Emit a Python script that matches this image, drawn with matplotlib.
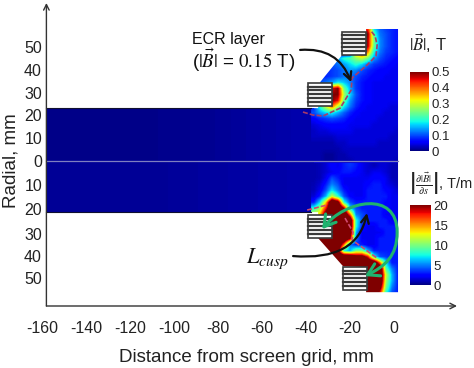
import numpy as np
import matplotlib
matplotlib.use('Agg')
import matplotlib.pyplot as plt
from matplotlib.patches import FancyArrowPatch, Polygon, Rectangle
from matplotlib.path import Path

plt.rcParams['font.family'] = ['Liberation Sans', 'DejaVu Sans']
plt.rcParams['mathtext.fontset'] = 'stix'

x_ticks = [-160, -140, -120, -100, -80, -60, -40, -20, 0]
y_ticks = [49.6, 39.6, 29.6, 20, 10, 0, -10.4, -20.9, -31.7, -41.3, -50.9]
y_labels = ['50', '40', '30', '20', '10', '0', '10', '20', '30', '40', '50']

# |B| in T/100, rows from the top of the chamber down to the axis
b_field = [
    [0, 0, 0, 0, 0, 0, 0, 50, 50, 42, 17, 11, 9, 8, 7],
    [0, 0, 0, 0, 0, 0, 0, 50, 50, 50, 22, 12, 10, 8, 7],
    [0, 0, 0, 0, 0, 0, 0, 50, 50, 48, 25, 13, 10, 8, 7],
    [0, 0, 0, 0, 0, 0, 0, 50, 50, 48, 24, 13, 10, 8, 7],
    [0, 0, 0, 0, 0, 0, 0, 40, 45, 38, 19, 12, 9, 8, 7],
    [0, 0, 0, 10, 14, 20, 22, 26, 30, 24, 14, 10, 8, 7, 6],
    [6, 6, 8, 10, 12, 14, 17, 20, 17, 12, 9, 8, 7, 6, 5],
    [6, 7, 8, 9, 10, 12, 14, 13, 10, 8, 7, 6, 6, 5, 5],
    [8, 8, 8, 9, 10, 12, 12, 10, 8, 7, 6, 6, 5, 5, 5],
    [10, 10, 12, 14, 18, 16, 13, 9, 7, 6, 5, 5, 5, 5, 5],
    [30, 35, 40, 45, 50, 24, 15, 9, 7, 6, 5, 5, 5, 5, 5],
    [50, 50, 50, 50, 50, 28, 17, 10, 7, 6, 5, 5, 5, 5, 5],
    [50, 50, 50, 50, 45, 24, 14, 9, 7, 6, 5, 5, 5, 5, 5],
    [8, 20, 30, 40, 28, 18, 12, 8, 6, 5, 5, 5, 5, 4, 4],
    [10, 14, 17, 19, 15, 11, 8, 6, 5, 5, 5, 5, 4, 4, 4],
    [6, 8, 9, 10, 9, 8, 6, 5, 5, 5, 5, 4, 4, 4, 4],
    [4, 5, 6, 6, 6, 6, 5, 5, 5, 5, 4, 4, 4, 4, 4],
    [3, 4, 4, 5, 5, 5, 5, 4, 4, 4, 4, 4, 4, 4, 3],
    [3, 3, 3, 3, 4, 4, 4, 4, 4, 4, 4, 4, 4, 3, 3],
    [2, 2, 2, 2, 3, 3, 4, 4, 4, 4, 4, 3, 3, 3, 3],
    [2, 2, 2, 2, 2, 3, 3, 3, 3, 3, 3, 3, 3, 3, 3],
    [2, 2, 1, 1, 2, 2, 3, 3, 3, 3, 3, 3, 3, 3, 3],
    [2, 2, 1, 1, 2, 2, 2, 3, 3, 3, 3, 3, 3, 3, 2],
]

# gradient in T/m, rows from the axis downwards (above 20 reads as saturated)
grad_field = [
    [0.8, 1, 1.5, 2.5, 2, 3, 3.5, 3, 2, 1.5, 1, 1.5, 1.5, 1, 1],
    [0.8, 1, 1.5, 2, 2.5, 3, 3, 2.5, 2, 1.5, 2, 2, 1.5, 1, 1],
    [0.8, 1, 2, 4, 3, 2, 2, 2, 2, 2, 2.5, 2.5, 2, 1, 1],
    [0.9, 1.5, 3, 5, 4, 2, 2, 2, 2, 2.5, 3, 3, 2, 1.5, 1],
    [1, 2, 4, 7, 5, 3, 2, 2, 2, 3, 3, 3, 2.5, 2, 1.5],
    [1.5, 3, 6, 12, 8, 4, 2.5, 2, 2, 3, 3, 3, 3, 2, 2],
    [3, 7, 14, 25, 22, 8, 4, 3, 3, 3, 3, 3, 2.5, 2, 2],
    [8, 11, 18, 25, 25, 20, 7, 4, 3, 3, 3, 3, 2.5, 2, 2],
    [12, 14, 22, 25, 25, 25, 16, 5, 4, 3, 3, 3, 2, 2, 2],
    [25, 25, 25, 25, 25, 25, 25, 8, 4, 3, 3, 3, 3, 2, 2],
    [25, 25, 25, 25, 25, 25, 25, 8, 3, 2, 2, 3, 3, 3, 3],
    [25, 25, 25, 25, 25, 25, 23, 6, 2, 2, 2, 2, 3, 3, 3],
    [25, 25, 25, 25, 25, 25, 20, 5, 2, 2, 2, 3, 3, 3, 3],
    [25, 25, 25, 25, 25, 16, 5, 3, 3, 2, 2, 3, 3, 3, 3],
    [25, 25, 25, 25, 22, 8, 6, 10, 10, 6, 3, 3, 3, 3, 3],
    [25, 25, 25, 25, 25, 25, 25, 22, 22, 18, 8, 4, 3.5, 3, 3],
    [25, 25, 25, 25, 25, 25, 25, 25, 25, 25, 25, 16, 7, 3, 3],
    [25, 25, 25, 25, 25, 25, 25, 25, 25, 25, 25, 25, 9, 5, 3],
    [25, 25, 25, 25, 25, 25, 25, 25, 25, 25, 25, 25, 12, 6, 3],
    [25, 25, 25, 25, 25, 25, 25, 25, 25, 25, 25, 25, 11, 6, 3],
    [25, 25, 25, 25, 25, 25, 25, 25, 25, 25, 25, 22, 10, 5, 3],
    [25, 25, 25, 25, 25, 25, 25, 25, 25, 25, 25, 18, 8, 4, 3],
]

# grid side of the channel, nearly flat
channel_b = [0.5, 0.5, 0.5, 0.7, 1, 1.5, 2]
channel_grad = [0.4, 0.4, 0.4, 0.5, 0.6, 0.7, 0.8]

ecr_top_x = [-41.4, -36.8, -32.3, -24.5, -19.5, -19.1, -12.3, -8.2, -7.7, -8.6, -10.9]
ecr_top_r = [21.3, 20, 19.6, 23, 30.9, 36.1, 41.7, 45.7, 50.4, 54.3, 57]
ecr_low1_x = [-39.5, -30.5]
ecr_low1_r = [-21.3, -19.1]
ecr_low2_x = [-22.3, -18.6, -19.1, -7.7]
ecr_low2_r = [-24.8, -30.9, -34.3, -42.2]

magnets = [(-23.6, 46.1), (-39.1, 23.9), (-39.1, -33.5), (-23.2, -56.1)]
magnet_w = 10.7
magnet_h = 10.2

fig = plt.figure(figsize=(4.74, 3.68), dpi=100)
ax = fig.add_axes([42 / 474, (368 - 306) / 368, (457 - 42) / 474, 303 / 368])

# backing strip so the two field images meet without a seam on the axis
ax.add_patch(Rectangle((-37.7, -3), 39.5, 6, fc=plt.get_cmap('jet')(0.07), ec='none', zorder=1.5))

im_b = ax.imshow(b_field, cmap='jet', vmin=0, vmax=50, aspect='auto', interpolation='bilinear',
                 extent=(-37.7, 3.2, -1.3, 58.7), zorder=2)
im_b.set_clip_path(Polygon([(-37.7, 0), (-37.7, 23), (-34.5, 23), (-33.6, 34.3), (-23.6, 46.1),
                            (-12.7, 46.1), (-12.7, 57.4), (1.8, 57.4), (1.8, 0)],
                           transform=ax.transData))
im_g = ax.imshow(grad_field, cmap='jet', vmin=0, vmax=20, aspect='auto', interpolation='bilinear',
                 extent=(-37.7, 3.2, -58.7, -1.3), zorder=2)
im_g.set_clip_path(Polygon([(-37.7, -0.2), (1.8, -0.2), (1.8, -57), (-12.7, -57), (-12.7, -46.1),
                            (-23.2, -45.7), (-34.5, -33.5), (-34.5, -22.2), (-37.7, -22.2)],
                           transform=ax.transData))
ax.imshow([channel_b], cmap='jet', vmin=0, vmax=50, aspect='auto', interpolation='bilinear',
          extent=(-158, -36.5, 0, 23), zorder=1.9)
ax.imshow([channel_grad], cmap='jet', vmin=0, vmax=20, aspect='auto', interpolation='bilinear',
          extent=(-158, -36.5, -22.2, 0), zorder=1.9)

ax.plot([-158, -37.7], [23, 23], color='#101030', lw=0.8, zorder=3)
ax.plot([-158, -37.7], [-22.2, -22.2], color='#101030', lw=0.8, zorder=3)
ax.plot([-158, 1.8], [0, 0], color='#7f7fc0', lw=0.9, zorder=3)

ax.plot(ecr_top_x, ecr_top_r, color='#a83a68', lw=1.2, ls=(0, (3, 1.2)), zorder=4)
ax.plot(ecr_low1_x, ecr_low1_r, color='#d04a70', lw=1.2, ls=(0, (3, 1.2)), zorder=4)
ax.plot(ecr_low2_x, ecr_low2_r, color='#d04a70', lw=1.2, ls=(0, (3, 1.2)), zorder=4)

for mx, my in magnets:
    ax.add_patch(Rectangle((mx, my), magnet_w, magnet_h, fc='white', ec='#3a3a3a', lw=1.2, zorder=5))
    for k in range(1, 6):
        ax.plot([mx, mx + magnet_w], [my + magnet_h * k / 6] * 2, color='#3a3a3a', lw=1.6, zorder=5)

# axis arrows
ax.annotate('', xy=(-158, 68.7), xytext=(-158, -63), annotation_clip=False,
            arrowprops=dict(arrowstyle='->', color='#333333', lw=1, shrinkA=0, shrinkB=0))
ax.annotate('', xy=(28.6, -63), xytext=(-158, -63), annotation_clip=False,
            arrowprops=dict(arrowstyle='->', color='#333333', lw=1, shrinkA=0, shrinkB=0))

# pointers
ecr_path = Path([(-42.7, 48.3), (-25.5, 49.6), (-19.5, 34.3)], [Path.MOVETO, Path.CURVE3, Path.CURVE3])
ax.add_patch(FancyArrowPatch(path=ecr_path, arrowstyle='->', mutation_scale=14, color='#111111', lw=1.6, zorder=6))
cusp_path = Path([(-45.9, -41.3), (-16.8, -43.5), (-12.3, -22.6)], [Path.MOVETO, Path.CURVE3, Path.CURVE3])
ax.add_patch(FancyArrowPatch(path=cusp_path, arrowstyle='->', mutation_scale=14, color='#111111', lw=1.6, zorder=6))
green_path = Path([(-32.7, -29.6), (-22.3, -17), (1.4, -12.6), (1.4, -30.9), (1.4, -41.3), (-4.1, -45.7), (-13.2, -50)],
                  [Path.MOVETO, Path.CURVE4, Path.CURVE4, Path.CURVE4, Path.CURVE4, Path.CURVE4, Path.CURVE4])
ax.add_patch(FancyArrowPatch(path=green_path, arrowstyle='<->,head_length=0.5,head_width=0.3', mutation_scale=16,
                             color='#1fb36e', lw=2.2, zorder=7))

ax.text(-91.8, 53, 'ECR layer', fontsize=11.5, va='center', color='#111111')
ax.text(-91.8, 44, r'($|\vec{B}|$ = $0.15$ T)', fontsize=13.5, va='center', color='#111111')
ax.text(-67.5, -42.5, r'$L_{cusp}$', fontsize=16, va='center', color='#111111')

ax.set_xlim(-160, 28.6)
ax.set_ylim(-63, 68.7)
ax.set_xticks(x_ticks)
ax.set_xticklabels([str(v) for v in x_ticks], fontsize=11.5, color='#222222')
ax.set_yticks(y_ticks)
ax.set_yticklabels(y_labels, fontsize=11.5, color='#222222')
ax.tick_params(length=0)
ax.tick_params(axis='x', pad=11)
ax.tick_params(axis='y', pad=0)
for s in ax.spines.values():
    s.set_visible(False)
ax.patch.set_alpha(0)

fig.text(246 / 474, 1 - 357 / 368, 'Distance from screen grid, mm', fontsize=13.5, ha='center', va='center', color='#222222')
fig.text(11 / 474, 1 - 161 / 368, 'Radial, mm', fontsize=13.5, rotation=90, ha='center', va='center', color='#222222')

cax1 = fig.add_axes([410 / 474, (368 - 151) / 368, 19 / 474, 79 / 368])
cb1 = fig.colorbar(im_b, cax=cax1)
cb1.set_ticks([0, 10, 20, 30, 40, 50])
cb1.set_ticklabels(['0', '0.1', '0.2', '0.3', '0.4', '0.5'])
cb1.ax.tick_params(length=0, pad=2, labelsize=9.5, labelcolor='#222222')
cb1.outline.set_visible(False)

cax2 = fig.add_axes([410 / 474, (368 - 285) / 368, 21 / 474, 80 / 368])
cb2 = fig.colorbar(im_g, cax=cax2)
cb2.set_ticks([0, 5, 10, 15, 20])
cb2.ax.tick_params(length=0, pad=2, labelsize=9.5, labelcolor='#222222')
cb2.outline.set_visible(False)

fig.text(409 / 474, 1 - 43 / 368, r'$|\vec{B}|$, T', fontsize=12, va='center', color='#222222')
fig.text(409 / 474, 1 - 184 / 368, r'$\left|\frac{\partial|\vec{B}|}{\partial s}\right|$, T/m', fontsize=10.5, va='center', color='#222222')

fig.savefig('out.png', dpi=100)
